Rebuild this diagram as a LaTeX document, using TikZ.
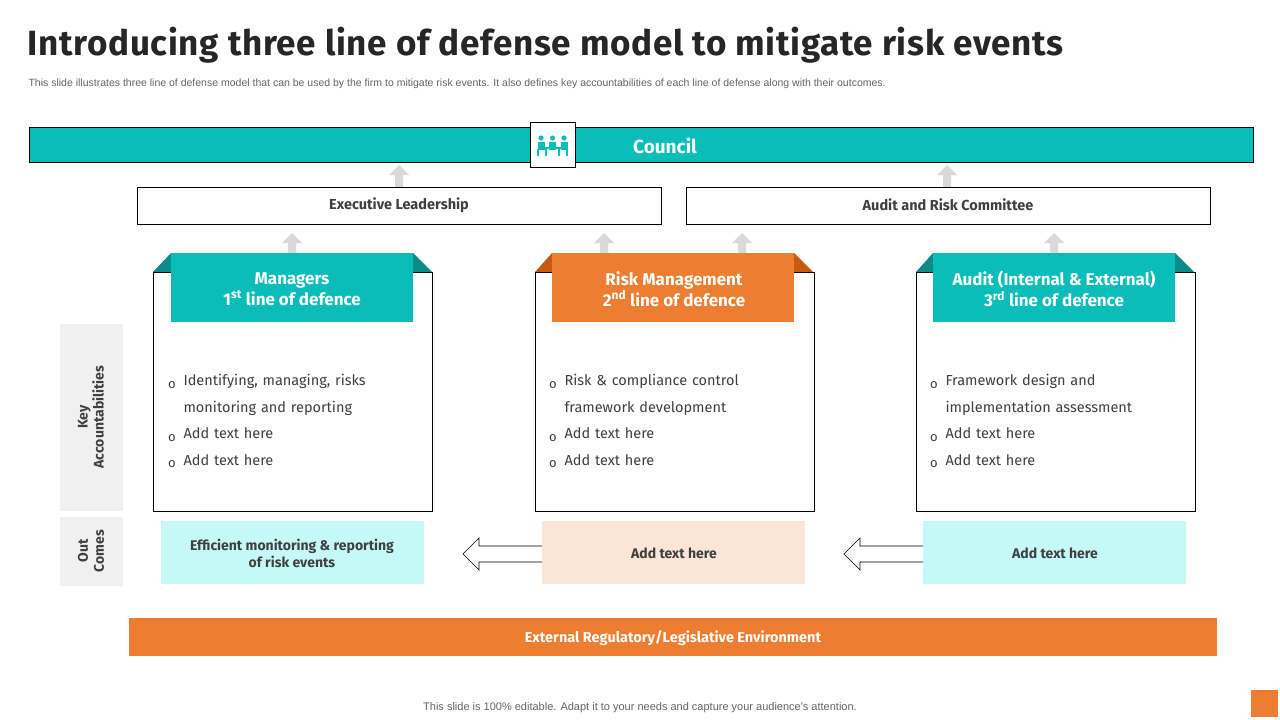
\documentclass[tikz,border=0pt]{standalone}
\usepackage{fontspec}
\setmainfont{Fira Sans}
\newfontfamily\arial{Liberation Sans}
\definecolor{teal1}{HTML}{0BBDB9}
\definecolor{teald}{HTML}{0E8A87}
\definecolor{org}{HTML}{ED7D31}
\definecolor{orgd}{HTML}{C55A11}
\definecolor{cyanl}{HTML}{C4F9F8}
\definecolor{peach}{HTML}{FBE5D6}
\definecolor{txt}{HTML}{404040}
\definecolor{arr}{HTML}{D9D9D9}
\hyphenpenalty=10000
\begin{document}
\begin{tikzpicture}[x=1pt,y=-1pt,
  wbox/.style={draw=black,fill=white,line width=0.8pt},
  card/.style={draw=black,fill=white,line width=0.8pt},
  tabt/.style={font=\bfseries\fontsize{17}{21}\selectfont,text=white,align=center},
  itm/.style={font=\fontsize{14.5}{26.5}\selectfont,text=txt,align=left,anchor=north west,text width=200pt},
  outt/.style={font=\bfseries\fontsize{14}{17}\selectfont,text=txt,align=center},
  side/.style={fill=black!6},
  sidet/.style={font=\bfseries\fontsize{14}{16}\selectfont,text=txt,align=center,rotate=90},
  uparr/.style={fill=arr}]
\useasboundingbox (0,0) rectangle (1280,720);
\fill[white] (0,0) rectangle (1280,720);
\node[anchor=west,font=\bfseries\fontsize{35}{38}\selectfont,text=black!85] (title) at (24,45) {\addfontfeature{LetterSpace=2}Introducing three line of defense model to mitigate risk events};
\node[anchor=west,font=\arial\fontsize{10.5}{11}\selectfont,text=black!60] (sub) at (25,84) {This slide illustrates three line of defense model that can be used by the firm to mitigate risk events. It also defines key accountabilities of each line of defense along with their outcomes.};
% council
\draw[fill=teal1,line width=0.8pt] (29,127) rectangle (1253,162);
\node[font=\bfseries\fontsize{19}{22}\selectfont,text=white] (council) at (665,146) {Council};
\draw[wbox] (530,122) rectangle (575,167);
\begin{scope}[teal1]
\foreach \px in {541,552.5,564}{
  \fill (\px,138) circle (2.6);
  \fill (\px-3.5,142) rectangle (\px+3.5,150);
}
\fill (538,147) rectangle (567,149);
\fill (537,149) rectangle (539,156);
\fill (566,149) rectangle (568,156);
\fill (545,149) rectangle (547,156);
\fill (558,149) rectangle (560,156);
\end{scope}
% up arrows
\foreach \x/\yt/\yb in {399/165/187,947/165/187,292/233/253,604/233/253,742/233/253,1054/233/253}{
  \fill[arr] (\x-4,\yb) -- (\x-4,\yt+10) -- (\x-10,\yt+10) -- (\x,\yt) -- (\x+10,\yt+10) -- (\x+4,\yt+10) -- (\x+4,\yb) -- cycle;}
% exec / audit
\draw[wbox] (137,187) rectangle (661,224);
\node[font=\bfseries\fontsize{14.5}{17}\selectfont,text=txt] (exec) at (399,205) {Executive Leadership};
\draw[wbox] (686,187) rectangle (1210,224);
\node[font=\bfseries\fontsize{14.5}{17}\selectfont,text=txt] (arc) at (948,205) {Audit and Risk Committee};
% cards
\foreach \bx/\tx/\tc/\dc in {153/171/teal1/teald,535/552/org/orgd,916/933/teal1/teald}{
  \draw[card] (\bx,272) rectangle (\bx+279,511);
  \fill[\dc] (\bx,272) -- (\tx,253) -- (\tx,272) -- cycle;
  \fill[\dc] (\tx+242,253) -- (\tx+261,272) -- (\tx+242,272) -- cycle;
  \fill[\tc] (\tx,253) rectangle (\tx+242,322);
}
\node[tabt] (t1) at (292,289) {Managers\\1\textsuperscript{st} line of defence};
\node[tabt] (t2) at (674,289) {Risk Management\\2\textsuperscript{nd} line of defence};
\node[tabt] (t3) at (1054,289) {Audit (Internal \& External)\\3\textsuperscript{rd} line of defence};
\foreach \bx/\n in {167/a,548/b,929/c}{
  \foreach \y in {385,438,464}{\node[font=\fontsize{13}{13}\selectfont,text=txt] at (\bx+5,\y) {o};}
}
\node[itm] (i1) at (180,371) {Identifying, managing, risks monitoring and reporting\\Add text here\\Add text here};
\node[itm] (i2) at (561,371) {Risk \& compliance control framework development\\Add text here\\Add text here};
\node[itm] (i3) at (942,371) {Framework design and implementation assessment\\Add text here\\Add text here};
% side labels
\fill[side] (60,324) rectangle (123,511);
\node[sidet] (ka) at (91,417) {Key\\Accountabilities};
\fill[side] (60,517) rectangle (123,586);
\node[sidet] (oc) at (91,551) {Out\\Comes};
% outcomes
\fill[cyanl] (161,521) rectangle (424,584);
\node[outt] (o1) at (292,553) {Efficient monitoring \& reporting\\of risk events};
\fill[peach] (542,521) rectangle (805,584);
\node[outt] (o2) at (674,553) {Add text here};
\fill[cyanl] (923,521) rectangle (1186,584);
\node[outt] (o3) at (1055,553) {Add text here};
\foreach \tip/\e in {463/542,844/923}{
  \draw[fill=white,line width=0.6pt] (\e,546) -- (\tip+16,546) -- (\tip+16,538) -- (\tip,554) -- (\tip+16,570) -- (\tip+16,562) -- (\e,562);}
% bottom bar
\fill[org] (129,618) rectangle (1217,656);
\node[font=\bfseries\fontsize{14.5}{17}\selectfont,text=white] (ext) at (673,638) {External Regulatory/Legislative Environment};
\node[font=\arial\fontsize{11}{12}\selectfont,text=black!60] (foot) at (640,708) {This slide is 100\% editable. Adapt it to your needs and capture your audience's attention.};
\fill[org] (1251,690) rectangle (1278,717);
\end{tikzpicture}
\end{document}
